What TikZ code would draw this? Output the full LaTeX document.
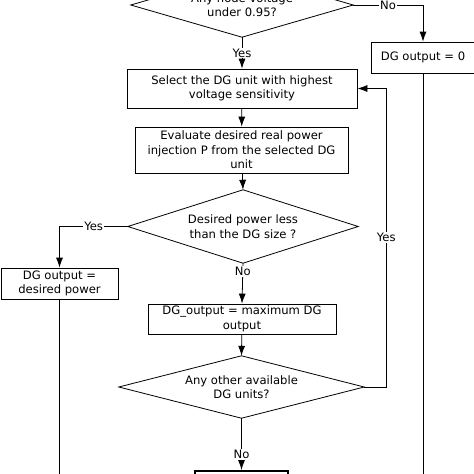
\documentclass[tikz,border=0pt]{standalone}
\usepackage{fontspec}
\setmainfont{DejaVu Sans}
\usetikzlibrary{arrows.meta}
\tikzstyle{stepbox} = [draw=black, fill=white, line width=0.8pt,
    rectangle, align=center, inner sep=2pt, font=\fontsize{11.6}{14.5}\selectfont]
\tikzstyle{decision} = [rectangle, align=center, inner sep=0pt,
    font=\fontsize{11.6}{14.5}\selectfont]
\tikzstyle{line} = [draw=black, line width=0.8pt]
\tikzstyle{arrow} = [line, -{Latex[length=10pt,width=7pt]}]
\tikzstyle{answer} = [fill=white, inner sep=1pt, font=\fontsize{11.6}{14.5}\selectfont]

\begin{document}
\begin{tikzpicture}[x=1pt,y=-1pt]
    \useasboundingbox (0,0) rectangle (474,474);
    \clip (0,0) rectangle (474,474);
    % decisions and steps
    \node[decision, minimum width=222pt, minimum height=64pt] (voltage) at (242,5) {Any node voltage\\under 0.95?};
    \node[stepbox, minimum width=104pt, minimum height=31pt] (zero) at (423,57.5) {DG output = 0};
    \node[stepbox, minimum width=230pt, minimum height=39pt] (select) at (242,88.5) {Select the DG unit with highest\\voltage sensitivity};
    \node[stepbox, minimum width=213pt, minimum height=46pt] (evaluate) at (241.5,150) {Evaluate desired real power\\injection P from the selected DG\\unit};
    \node[decision, minimum width=230pt, minimum height=73pt] (desired) at (243,226.5) {Desired power less\\than the DG size ?};
    \node[stepbox, minimum width=117pt, minimum height=31pt] (desiredout) at (59.5,283.5) {DG output =\\desired power};
    \node[stepbox, minimum width=188pt, minimum height=30pt] (maxout) at (242,319) {DG\_output = maximum DG\\output};
    \node[decision, minimum width=245pt, minimum height=62pt] (other) at (241.5,387) {Any other available\\DG units?};
    \node[stepbox, minimum width=93pt, minimum height=30pt, line width=2pt] (finish) at (241.5,486) {};
    % diamond outlines
    \foreach \d in {voltage,desired,other}
        \draw[line] (\d.north) -- (\d.east) -- (\d.south) -- (\d.west) -- cycle;
    % connectors
    \draw[arrow] (voltage.south) -- node[answer]{Yes} (select.north);
    \draw[arrow] (voltage.east) -| node[answer, pos=0.25]{No} (zero.north);
    \draw[arrow] (select) -- (evaluate);
    \draw[arrow] (evaluate) -- (desired.north);
    \draw[arrow] (desired.west) -| node[answer, pos=0.25]{Yes} (desiredout.north);
    \draw[arrow] (desired.south) -- node[answer, pos=0.2]{No} (maxout.north);
    \draw[arrow] (maxout) -- (other.north);
    \draw[arrow] (other.east) -- ++(22,0) |- node[answer, pos=0.25]{Yes} (select.east);
    \draw[arrow] (other.south) -- node[answer, pos=0.7]{No} (finish.north);
    \draw[arrow] (desiredout.south) |- (finish.west);
    \draw[arrow] (zero.south) |- (finish.east);
\end{tikzpicture}
\end{document}
